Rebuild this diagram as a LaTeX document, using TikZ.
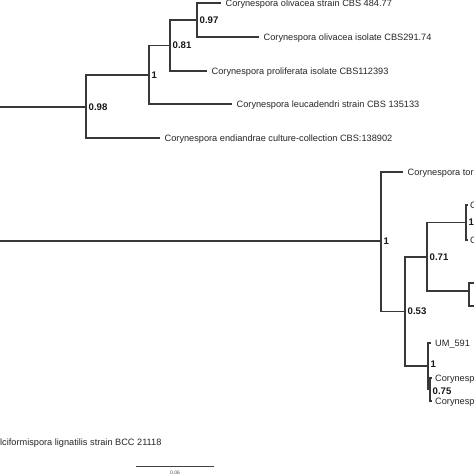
\documentclass[tikz,border=0pt]{standalone}
\usepackage{fontspec}
\setmainfont{Liberation Sans}
\begin{document}
\begin{tikzpicture}[x=1pt,y=-1pt,
  br/.style={draw=black!78,line width=1.2pt},
  leaf/.style={anchor=base west,inner sep=0pt,xshift=4.5pt,yshift=-3.3pt,text=black!85,font=\fontsize{9.2}{11}\selectfont},
  lab/.style={anchor=base west,inner sep=0pt,xshift=2.5pt,yshift=-3.4pt,text=black!90,font=\fontsize{9.6}{11}\selectfont\bfseries}]
\useasboundingbox (0,0) rectangle (474,474);
\clip (0,0) rectangle (474,474);
\fill[white] (0,0) rectangle (474,474);
% upper clade
\coordinate (r1) at (-10,107);
\coordinate (n098) at (86,107);
\coordinate (n1a) at (149,75);
\coordinate (n081) at (170,45.5);
\coordinate (n097) at (197,20);
\coordinate (a1) at (221,3);
\coordinate (a2) at (259,37);
\coordinate (a3) at (207,71);
\coordinate (a4) at (232,104);
\coordinate (a5) at (160,138);
\draw[br] (r1) -- (n098);
\draw[br] (n098) |- (n1a);
\draw[br] (n098) |- (a5);
\draw[br] (n1a) |- (n081);
\draw[br] (n1a) |- (a4);
\draw[br] (n081) |- (n097);
\draw[br] (n081) |- (a3);
\draw[br] (n097) |- (a1);
\draw[br] (n097) |- (a2);
\node[leaf] (ta1) at (a1) {Corynespora olivacea strain CBS 484.77};
\node[leaf] (ta2) at (a2) {Corynespora olivacea isolate CBS291.74};
\node[leaf] (ta3) at (a3) {Corynespora proliferata isolate CBS112393};
\node[leaf] (ta4) at (a4) {Corynespora leucadendri strain CBS 135133};
\node[leaf] (ta5) at (a5) {Corynespora endiandrae culture-collection CBS:138902};
\node[lab] (l097) at (n097) {0.97};
\node[lab] (l081) at (n081) {0.81};
\node[lab] (l1a) at (n1a) {1};
\node[lab] (l098) at (n098) {0.98};
% lower clade
\coordinate (r2) at (-10,241);
\coordinate (n1b) at (381,241);
\coordinate (b1) at (403,172);
\coordinate (n053) at (405,311.5);
\coordinate (n071) at (427,257);
\coordinate (nC) at (466,222.5);
\coordinate (c1) at (468,205);
\coordinate (c2) at (468,240);
\coordinate (nD) at (469,291);
\coordinate (d1) at (490,283);
\coordinate (d2) at (490,306);
\coordinate (nUM) at (428,366);
\coordinate (u1) at (430.5,343);
\coordinate (n075) at (430,389.5);
\coordinate (u2) at (432,378);
\coordinate (u3) at (432,401);
\draw[br] (r2) -- (n1b);
\draw[br] (n1b) |- (b1);
\draw[br] (n1b) |- (n053);
\draw[br] (n053) |- (n071);
\draw[br] (n053) |- (nUM);
\draw[br] (n071) |- (nC);
\draw[br] (n071) |- (nD);
\draw[br] (nC) |- (c1);
\draw[br] (nC) |- (c2);
\draw[br] (nD) |- (d1);
\draw[br] (nD) |- (d2);
\draw[br] (nUM) |- (u1);
\draw[br] (nUM) |- (n075);
\draw[br] (n075) |- (u2);
\draw[br] (n075) |- (u3);
\node[leaf] (tb1) at (b1) {Corynespora tor};
\node[leaf,xshift=-2.5pt] (tc1) at (c1) {C};
\node[leaf,xshift=-2.5pt] (tc2) at (c2) {C};
\node[leaf] (tu1) at (u1) {UM\_591};
\node[leaf,xshift=-1.5pt] (tu2) at (u2) {Corynesp};
\node[leaf,xshift=-1.5pt] (tu3) at (u3) {Corynesp};
\node[lab] (l1b) at (n1b) {1};
\node[lab] (l053) at (n053) {0.53};
\node[lab] (l071) at (n071) {0.71};
\node[lab] (l1c) at (nC) {1};
\node[lab,yshift=1.5pt] (l1u) at (nUM) {1};
\node[lab,yshift=-2pt] (l075) at (n075) {0.75};
% outgroup
\node[anchor=base west,inner sep=0pt,text=black!85,font=\fontsize{9.2}{11}\selectfont] (tout) at (0,445.3) {lciformispora lignatilis strain BCC 21118};
% scale bar
\coordinate (sb1) at (136,466);
\coordinate (sb2) at (214,466);
\draw[draw=black!75,line width=1pt] (sb1) -- (sb2);
\node[inner sep=0pt,text=black!70,font=\fontsize{5}{6}\selectfont] (sbl) at (175,472.5) {0.06};
\end{tikzpicture}
\end{document}
